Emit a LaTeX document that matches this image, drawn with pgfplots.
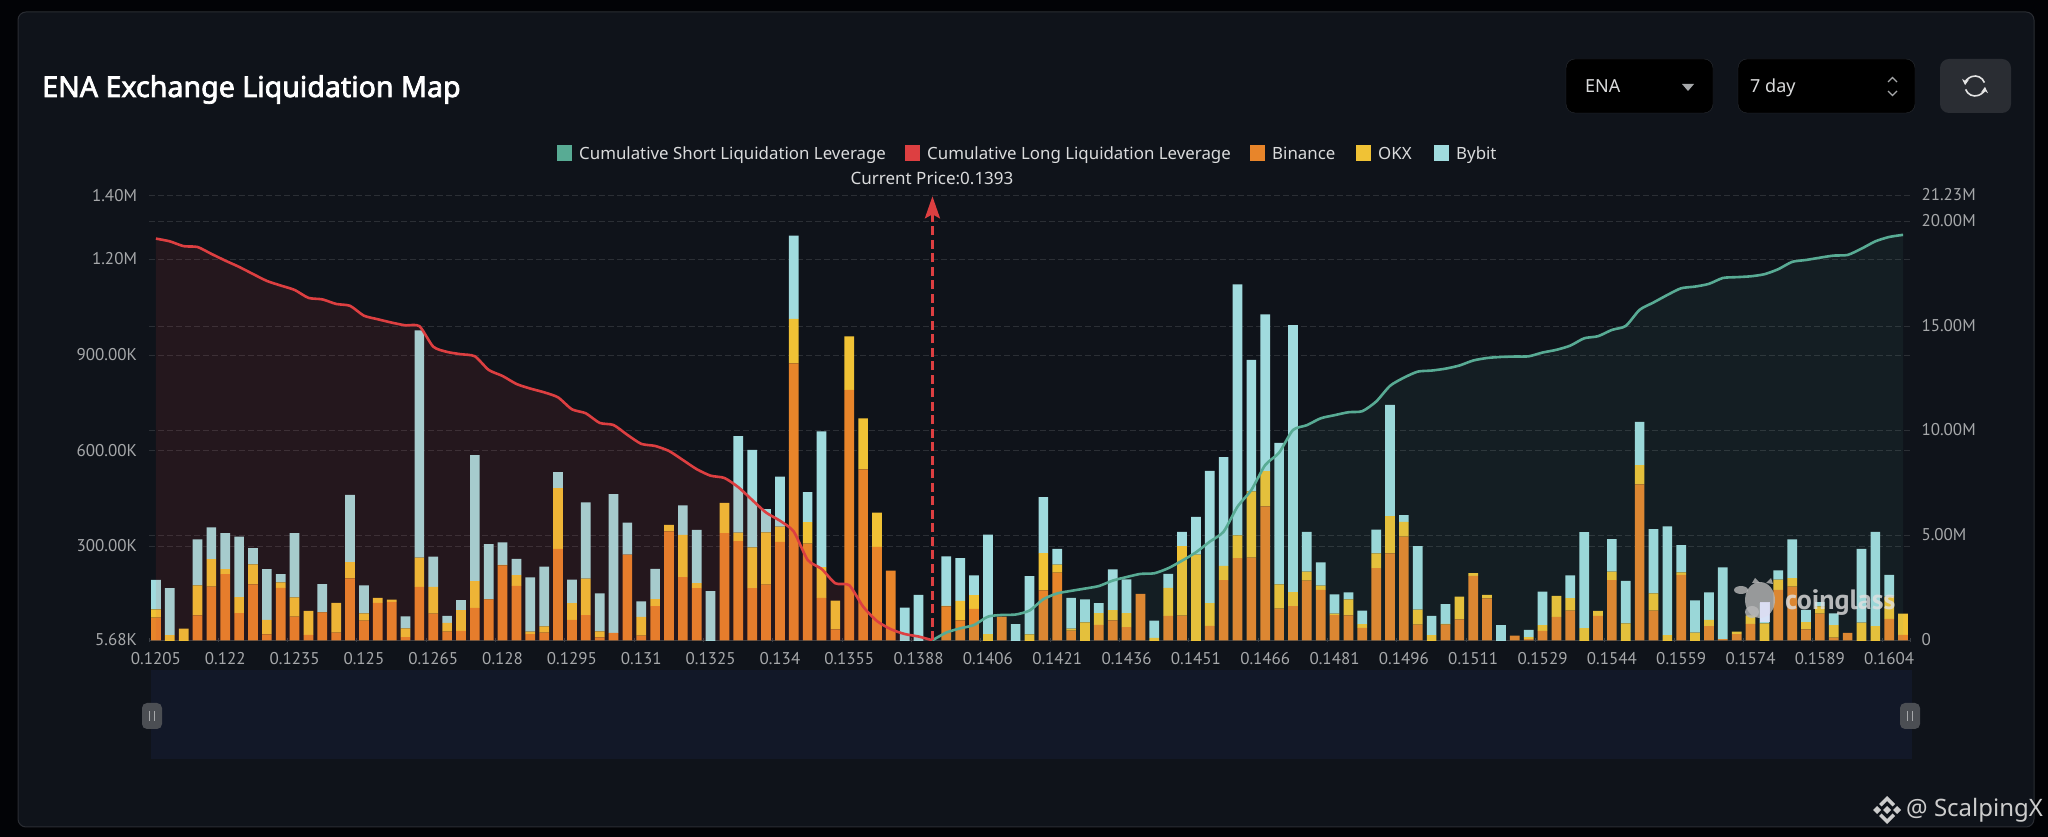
\documentclass[border=0pt]{standalone}
\usepackage{pgfplots}
\usepackage{pgfplotstable}
\usepackage{fontspec}
\pgfplotsset{compat=1.18}
\usetikzlibrary{arrows.meta}
\setmainfont{Noto Sans}
\newfontfamily\din{PT Sans}
\newfontfamily\titlef[FakeBold=2.6]{Noto Sans}
\definecolor{pagebg}{HTML}{020306}
\definecolor{card}{HTML}{0F131A}
\definecolor{cardline}{HTML}{2A2D33}
\definecolor{gridc}{HTML}{2B2F35}
\definecolor{axisl}{HTML}{3A3E44}
\definecolor{labelc}{HTML}{A6A8AA}
\definecolor{legc}{HTML}{DADBDC}
\definecolor{ob}{HTML}{E8852A}
\definecolor{yb}{HTML}{F0C235}
\definecolor{bb}{HTML}{A0DBDE}
\definecolor{redl}{HTML}{DD3F41}
\definecolor{greenl}{HTML}{58AB94}
\definecolor{slider}{HTML}{121828}
\pgfplotstableread{
i o y b
0 77 26 92
1 0 22 147
2 0 42 0
3 84 94 144
4 174 86 100
5 213 16 113
6 91 50 190
7 181 63 51
8 24 46 159
9 170 17 26
10 80 60 202
11 23 75 0
12 93 1 88
13 30 93 0
14 200 51 211
15 67 23 88
16 123 16 0
17 126 7 0
18 16 27 38
19 173 92 713
20 89 84 95
21 33 27 22
22 35 65 32
23 107 84 395
24 134 1 172
25 241 1 71
26 176 34 51
27 25 8 170
28 30 19 188
29 292 191 50
30 70 52 74
31 85 114 239
32 15 19 119
33 29 0 435
34 274 0 101
35 20 59 49
36 113 22 95
37 347 21 0
38 204 132 93
39 169 16 167
40 0 0 160
41 342 95 0
42 317 26 303
43 169 128 306
44 180 164 73
45 314 48 157
46 874 140 261
47 309 67 94
48 139 96 426
49 40 90 0
50 791 168 0
51 542 160 0
52 299 107 0
53 224 0 0
54 0 0 108
55 0 0 148
56 0 0 0
57 112 2 155
58 68 61 134
59 104 43 62
60 0 25 312
61 80 0 0
62 0 0 56
63 0 24 183
64 162 117 176
65 218 25 49
66 36 6 97
67 0 62 72
68 54 37 31
69 68 32 128
70 47 44 106
71 151 0 0
72 0 13 54
73 82 88 44
74 83 218 45
75 0 274 119
76 51 71 415
77 194 45 341
78 263 72 787
79 265 208 412
80 426 110 492
81 105 76 444
82 113 44 837
83 193 28 125
84 164 13 73
85 85 4 61
86 84 50 22
87 45 11 43
88 232 46 75
89 278 117 349
90 331 46 21
91 55 47 199
92 0 22 60
93 55 2 62
94 71 72 0
95 208 8 0
96 137 11 0
97 0 0 53
98 20 0 0
99 9 7 22
100 35 18 105
101 79 66 0
102 99 39 71
103 0 44 301
104 82 16 0
105 194 27 102
106 0 59 133
107 495 60 136
108 99 54 201
109 0 22 341
110 211 8 85
111 0 30 101
112 50 20 86
113 9 0 225
114 25 8 0
115 57 27 0
116 0 59 63
117 164 32 29
118 174 27 121
119 40 23 38
120 89 23 13
121 14 39 37
122 29 0 0
123 0 61 231
124 0 50 296
125 73 70 68
126 23 66 0
}\bars
\pgfplotstableread{
i v
0 19.18
1 19.05
2 18.82
3 18.78
4 18.45
5 18.13
6 17.83
7 17.49
8 17.16
9 16.94
10 16.73
11 16.35
12 16.28
13 16.06
14 15.97
15 15.50
16 15.33
17 15.17
18 15.04
19 15.00
20 14.02
21 13.77
22 13.66
23 13.56
24 12.91
25 12.62
26 12.24
27 12.02
28 11.84
29 11.60
30 11.03
31 10.84
32 10.38
33 10.28
34 9.81
35 9.38
36 9.28
37 9.04
38 8.61
39 8.17
40 7.86
41 7.75
42 7.31
43 6.70
44 6.10
45 5.71
46 5.19
47 3.84
48 3.41
49 2.72
50 2.63
51 1.61
52 0.92
53 0.53
54 0.30
55 0.18
56 0
}\longs
\pgfplotstableread{
i v
56 0
57 0.37
58 0.57
59 0.73
60 1.13
61 1.21
62 1.23
63 1.42
64 1.96
65 2.24
66 2.36
67 2.47
68 2.59
69 2.85
70 3.02
71 3.17
72 3.20
73 3.44
74 3.80
75 4.20
76 4.71
77 5.19
78 6.38
79 7.18
80 8.37
81 8.96
82 10.04
83 10.27
84 10.60
85 10.75
86 10.89
87 10.94
88 11.40
89 12.15
90 12.54
91 12.83
92 12.88
93 12.97
94 13.12
95 13.36
96 13.48
97 13.53
98 13.55
99 13.56
100 13.74
101 13.87
102 14.07
103 14.42
104 14.52
105 14.82
106 15.01
107 15.78
108 16.13
109 16.49
110 16.81
111 16.89
112 17.02
113 17.30
114 17.34
115 17.38
116 17.48
117 17.72
118 18.07
119 18.16
120 18.27
121 18.37
122 18.40
123 18.70
124 19.05
125 19.26
126 19.36
}\shorts
\pgfplotsset{base/.style={
  at={(149pt,196.7pt)}, anchor=south west, scale only axis,
  width=1761pt, height=444.6pt,
  xmin=-0.5, xmax=126.5,
  tick label style={font=\din\fontsize{17}{20}\selectfont, text=labelc},
  major tick length=0pt,
}}
\begin{document}
\begin{tikzpicture}
\path[use as bounding box, fill=pagebg] (0pt,0pt) rectangle (2048pt,837pt);
\begin{scope}[x=1pt,y=-1pt,shift={(0pt,837pt)}]
  \draw[cardline, fill=card, rounded corners=8pt, line width=1pt] (18,12) rectangle (2034,827);
  % title
  \node[anchor=base west, text=white, inner sep=0pt, font=\titlef\fontsize{28.6}{32}\selectfont] at (42,97) {ENA Exchange Liquidation Map};
  % selectors
  \draw[cardline, fill=black, rounded corners=9pt] (1566,59) rectangle (1713,113);
  \node[anchor=base west, inner sep=0pt, text=legc, font=\fontsize{18}{20}\selectfont] at (1585,92.5) {ENA};
  \fill[labelc] (1682,84) -- (1694,84) -- (1688,91) -- cycle;
  \draw[cardline, fill=black, rounded corners=9pt] (1738,59) rectangle (1915,113);
  \node[anchor=base west, inner sep=0pt, text=legc, font=\fontsize{18}{20}\selectfont] at (1750,92.5) {7 day};
  \draw[labelc, line width=1.3pt] (1888,82) -- (1892.5,77.5) -- (1897,82);
  \draw[labelc, line width=1.3pt] (1888,91) -- (1892.5,95.5) -- (1897,91);
  \fill[cardline, rounded corners=9pt] (1940,59) rectangle (2011,113);
  \draw[white!90!black, line width=1.6pt, -{Stealth[length=6pt,width=7pt]}] (1984.4,82.6) arc[start angle=-20,end angle=-175,radius=10];
  \draw[white!90!black, line width=1.6pt, -{Stealth[length=6pt,width=7pt]}] (1965.6,89.4) arc[start angle=160,end angle=5,radius=10];
  % legend
  \foreach \x/\c/\t in {557/greenl/Cumulative Short Liquidation Leverage,905/redl/Cumulative Long Liquidation Leverage,1250/ob/Binance,1356/yb/OKX,1434/bb/Bybit}{
    \fill[\c] (\x,145.5) rectangle +(15,16);
    \node[anchor=base west, inner sep=0pt, text=legc, font=\fontsize{16.85}{20}\selectfont] at (\x+22,160) {\t};
  }
  \node[text=legc, inner sep=0pt, font=\fontsize{17}{20}\selectfont] at (932,178) {Current Price:0.1393};
  % slider
  \fill[slider] (151,670) rectangle (1912,759);
\end{scope}

% right axis with its grid, under the bars
\begin{axis}[base,
  axis x line=none,
  axis y line=right, y axis line style={draw=none},
  ymin=0, ymax=21.23,
  ytick={0,5,10,15,20,21.23},
  yticklabels={0,5.00M,10.00M,15.00M,20.00M,21.23M},
  yticklabel style={anchor=west, xshift=8pt, yshift=1pt},
  ymajorgrids, y grid style={gridc, line width=1pt, dash pattern=on 6pt off 3pt},
]
\addplot[draw=none] coordinates {(0,0)};
\end{axis}

% bars, left axis
\begin{axis}[base,
  ybar stacked, bar width=9.7pt,
  axis x line=bottom, axis y line=left,
  y axis line style={draw=none},
  x axis line style={-, draw=axisl, line width=1pt},
  ymin=5.68, ymax=1400,
  ytick={5.68,300,600,900,1200,1400},
  yticklabels={5.68K,300.00K,600.00K,900.00K,1.20M,1.40M},
  yticklabel style={anchor=east, xshift=-8.5pt, yshift=0.5pt},
  ymajorgrids, y grid style={gridc, line width=1pt, dash pattern=on 6pt off 3pt},
  xtick={0,5,...,125},
  xticklabels={0.1205,0.122,0.1235,0.125,0.1265,0.128,0.1295,0.131,0.1325,0.134,0.1355,0.1388,0.1406,0.1421,0.1436,0.1451,0.1466,0.1481,0.1496,0.1511,0.1529,0.1544,0.1559,0.1574,0.1589,0.1604},
  xticklabel style={yshift=-9pt},
  minor xtick={-0.5,4.5,...,124.5,126.5},
  minor tick length=4pt,
  every minor tick/.style={axisl, line width=1pt},
]
\addplot[fill=ob, draw=none] table[x=i,y=o]{\bars};
\addplot[fill=yb, draw=none] table[x=i,y=y]{\bars};
\addplot[fill=bb, draw=none] table[x=i,y=b]{\bars};
\end{axis}

% cumulative lines and areas, right scale
\begin{axis}[base, hide axis, ymin=0, ymax=21.23]
\addplot[draw=none, fill=redl, fill opacity=0.1, smooth, tension=0.4] table[x=i,y=v]{\longs} \closedcycle;
\addplot[draw=none, fill=greenl, fill opacity=0.08, smooth, tension=0.4] table[x=i,y=v]{\shorts} \closedcycle;
\addplot[redl, line width=2.6pt, smooth, tension=0.4] table[x=i,y=v]{\longs};
\addplot[greenl, line width=2.6pt, smooth, tension=0.4] table[x=i,y=v]{\shorts};
\addplot[redl, line width=3pt, dash pattern=on 9pt off 4.5pt] coordinates {(56,0) (56,20)};
\addplot[redl, line width=3pt, -{Stealth[length=22pt,width=15pt,inset=4pt]}] coordinates {(56,19.95) (56,21.2)};
\end{axis}

\begin{scope}[x=1pt,y=-1pt,shift={(0pt,837pt)}]
  % slider handles
  \foreach \x in {152,1910}{
    \fill[white!25!card, rounded corners=5pt] (\x-10,703) rectangle (\x+10,729);
    \draw[labelc, line width=1.2pt] (\x-2.5,711) -- (\x-2.5,721) (\x+2.5,711) -- (\x+2.5,721);
  }
  % coinglass watermark
  \begin{scope}[opacity=0.8]
    \fill[white!72!black] (1760,600) ellipse (15 and 18);
    \fill[white!72!black] (1741,590) ellipse (7 and 4);
    \fill[white!72!black] (1752,583) -- (1755,578) -- (1760,583) -- cycle;
    \fill[white!72!black] (1766,583) -- (1771,578) -- (1773,584) -- cycle;
    \fill[white!90!blue] (1760,602) rectangle (1770,622);
    \fill[white!72!black] (1752,612) ellipse (7 and 6);
    \node[anchor=west, inner sep=0pt, text=white!88!black, font=\din\bfseries\fontsize{28}{30}\selectfont] at (1785,603) {coinglass};
  \end{scope}
  % ScalpingX watermark
  \begin{scope}[shift={(1887pt,-810pt)}, white!80!black]
    \fill (-14,0) -- (-10,-4) -- (-6,0) -- (-10,4) -- cycle;
    \fill (14,0) -- (10,-4) -- (6,0) -- (10,4) -- cycle;
    \fill (0,-4) -- (4,0) -- (0,4) -- (-4,0) -- cycle;
    \fill (0,-14) -- (8,-6) -- (5.5,-3.5) -- (0,-9) -- (-5.5,-3.5) -- (-8,-6) -- cycle;
    \fill (0,14) -- (8,6) -- (5.5,3.5) -- (0,9) -- (-5.5,3.5) -- (-8,6) -- cycle;
  \end{scope}
  \node[anchor=west, inner sep=0pt, text=white!80!black, font=\fontsize{24}{28}\selectfont] at (1906,810) {@ ScalpingX};
\end{scope}
\end{tikzpicture}
\end{document}
